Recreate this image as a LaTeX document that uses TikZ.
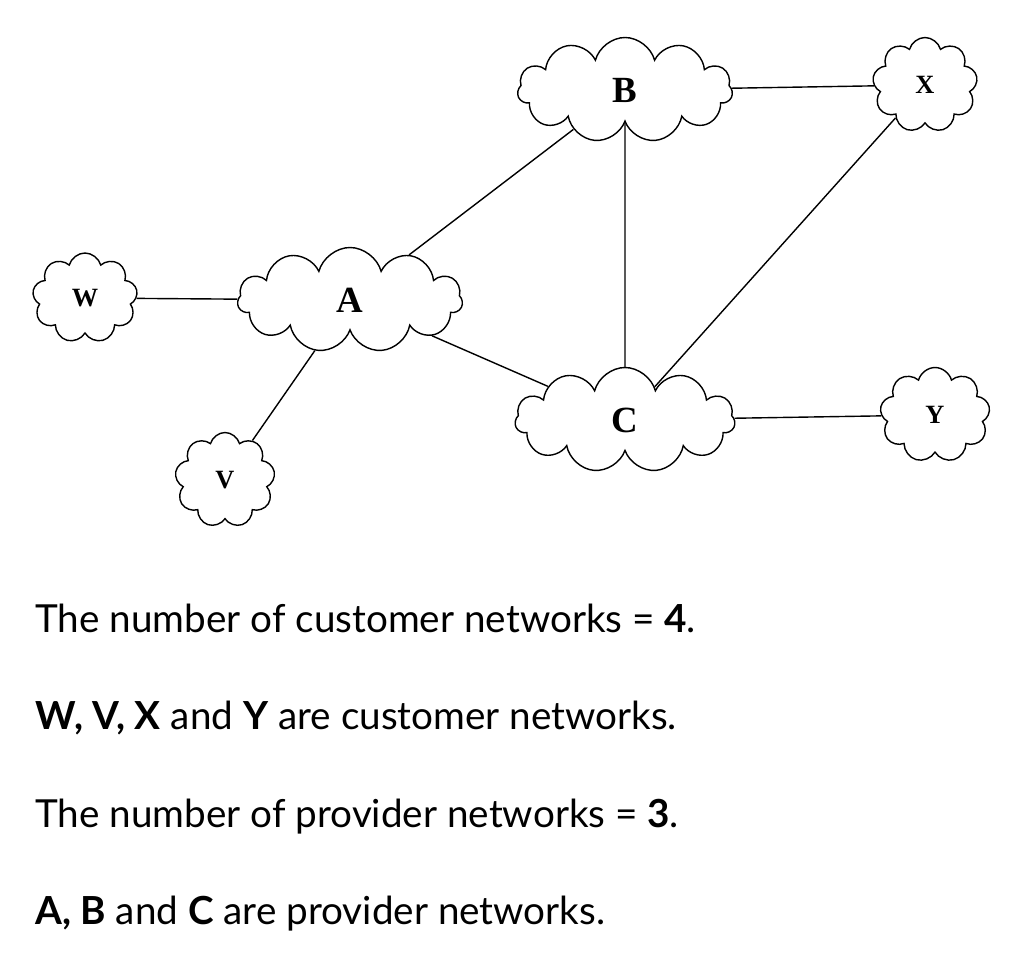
\documentclass[tikz,border=0pt]{standalone}
\usepackage{fontspec}
\newfontfamily\labelfont{Liberation Serif}
\newfontfamily\bodyfont{Lato}
\usetikzlibrary{shapes.symbols}
\usetikzlibrary{positioning}
\tikzset{
  net/.style={draw, thick, cloud, cloud puffs=9, cloud ignores aspect, inner sep=0pt, font=\labelfont\bfseries\fontsize{15}{15}\selectfont},
  bignet/.style={net, cloud puffs=11, font=\labelfont\bfseries\fontsize{21}{21}\selectfont},
  link/.style={thick},
  txt/.style={anchor=base west, inner sep=0pt, font=\bodyfont\fontsize{22}{24}\selectfont}
}
\begin{document}
\begin{tikzpicture}[x=0.02cm, y=-0.02cm]
\useasboundingbox (0,0) rectangle (1024,966);

% Networks
\node [net, minimum width=105*0.02cm, minimum height=90*0.02cm] (W) at (85,298) {W};
\node [bignet, minimum width=225*0.02cm, minimum height=105*0.02cm] (A) at (350,300) {A};
\node [net, minimum width=100*0.02cm, minimum height=95*0.02cm] (V) at (225,480) {V};
\node [bignet, minimum width=215*0.02cm, minimum height=105*0.02cm] (B) at (625,90) {B};
\node [net, minimum width=105*0.02cm, minimum height=95*0.02cm] (X) at (925,85) {X};
\node [bignet, minimum width=220*0.02cm, minimum height=105*0.02cm] (C) at (625,420) {C};
\node [net, minimum width=110*0.02cm, minimum height=95*0.02cm] (Y) at (935,415) {Y};

% Links
\draw [link] (W) -- (A);
\draw [link] (A) -- (B);
\draw [link] (A) -- (V);
\draw [link] (A) -- (C);
\draw [link] (B) -- (C);
\draw [link] (B) -- (X);
\draw [link] (C) -- (X);
\draw [link] (C) -- (Y);

% Text
\node [txt] (t1) at (35,632) {The number of customer networks = \textbf{4}.};
\node [txt] (t2) at (35,729) {\textbf{W, V, X} and \textbf{Y} are customer networks.};
\node [txt] (t3) at (35,827) {The number of provider networks = \textbf{3}.};
\node [txt] (t4) at (35,924) {\textbf{A, B} and \textbf{C} are provider networks.};
\end{tikzpicture}
\end{document}
